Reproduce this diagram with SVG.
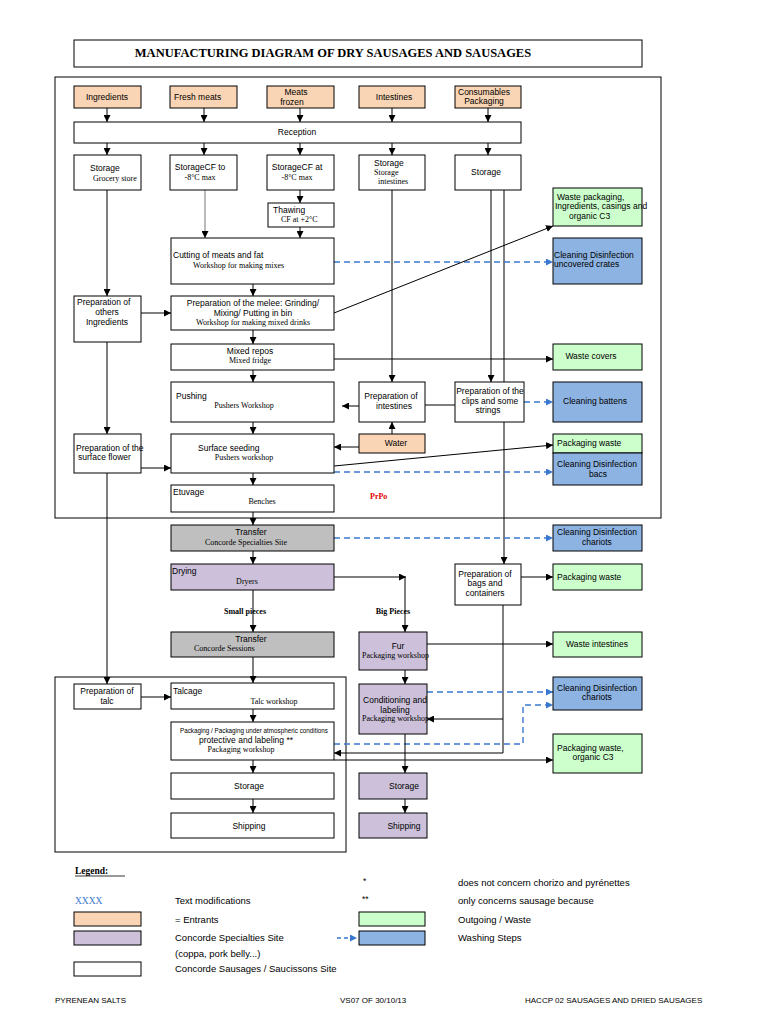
<svg xmlns="http://www.w3.org/2000/svg" width="768" height="1024" viewBox="0 0 768 1024">
<style>
.b{stroke:#000;stroke-width:1;fill:#fff}
.o{fill:#fad5b5}.g{fill:#ccffcc}.bl{fill:#8db3e2}.p{fill:#ccc0da}.gr{fill:#bfbfbf}
text{font-family:"Liberation Sans",Arial,sans-serif;font-size:8.5px;fill:#000}
.s{font-family:"Liberation Serif","Times New Roman",serif;font-size:8px}
.m{text-anchor:middle}
.c line,.c polyline{stroke:#000;stroke-width:1;fill:none}
.c .d{stroke:#3a78d0;stroke-width:1.4;stroke-dasharray:6,4}
.c .gl{stroke:#777}
</style>
<defs>
<marker id="a" viewBox="0 0 8 8" refX="8" refY="4" markerWidth="7" markerHeight="7" orient="auto" markerUnits="userSpaceOnUse"><path d="M0,0L8,4L0,8z" fill="#000"/></marker>
<marker id="ab" viewBox="0 0 8 8" refX="8" refY="4" markerWidth="7" markerHeight="7" orient="auto" markerUnits="userSpaceOnUse"><path d="M0,0L8,4L0,8z" fill="#3a78d0"/></marker>
</defs>
<rect x="74" y="40" width="568" height="27" fill="#fff" stroke="#000"/>
<text x="333" y="57" class="m" style="font-family:'Liberation Serif',serif;font-size:12.5px;font-weight:bold">MANUFACTURING DIAGRAM OF DRY SAUSAGES AND SAUSAGES</text>
<rect x="55" y="77" width="606" height="441" fill="none" stroke="#000"/>
<rect x="55" y="677" width="291" height="175" fill="none" stroke="#000"/>
<g class="c">
<line x1="107" y1="108" x2="107" y2="122" marker-end="url(#a)"/>
<line x1="204" y1="108" x2="204" y2="122" marker-end="url(#a)"/>
<line x1="300" y1="108" x2="300" y2="122" marker-end="url(#a)"/>
<line x1="392" y1="108" x2="392" y2="122" marker-end="url(#a)"/>
<line x1="488" y1="108" x2="488" y2="122" marker-end="url(#a)"/>
<line x1="107" y1="143" x2="107" y2="155" marker-end="url(#a)"/>
<line x1="204" y1="143" x2="204" y2="155" marker-end="url(#a)"/>
<line x1="300" y1="143" x2="300" y2="155" marker-end="url(#a)"/>
<line x1="392" y1="143" x2="392" y2="155" marker-end="url(#a)"/>
<line x1="488" y1="143" x2="488" y2="155" marker-end="url(#a)"/>
<line x1="107" y1="190" x2="107" y2="296" marker-end="url(#a)"/>
<line class="gl" x1="205" y1="190" x2="205" y2="238" marker-end="url(#a)"/>
<line x1="300" y1="190" x2="300" y2="203" marker-end="url(#a)"/>
<line x1="300" y1="227" x2="300" y2="238" marker-end="url(#a)"/>
<line x1="392" y1="190" x2="392" y2="382" marker-end="url(#a)"/>
<line x1="491" y1="190" x2="491" y2="382" marker-end="url(#a)"/>
<line x1="504" y1="190" x2="504" y2="382"/>
<line x1="504" y1="422" x2="504" y2="564" marker-end="url(#a)"/>
<polyline points="503,605 503,753 334,753" marker-end="url(#a)"/>
<line x1="503" y1="719" x2="427" y2="719" marker-end="url(#a)"/>
<line class="d" x1="334" y1="262" x2="553" y2="262" marker-end="url(#ab)"/>
<line x1="253" y1="284" x2="253" y2="296" marker-end="url(#a)"/>
<line x1="141" y1="313" x2="171" y2="313" marker-end="url(#a)"/>
<line x1="334" y1="313" x2="553" y2="226" marker-end="url(#a)"/>
<line x1="253" y1="330" x2="253" y2="344" marker-end="url(#a)"/>
<line x1="334" y1="359" x2="553" y2="359" marker-end="url(#a)"/>
<line x1="253" y1="370" x2="253" y2="382" marker-end="url(#a)"/>
<line x1="359" y1="406" x2="342" y2="406" marker-end="url(#a)"/>
<line x1="425" y1="405" x2="455" y2="405"/>
<line class="d" x1="524" y1="402" x2="553" y2="402" marker-end="url(#ab)"/>
<line x1="392" y1="434" x2="392" y2="422" marker-end="url(#a)"/>
<line x1="359" y1="447" x2="334" y2="447" marker-end="url(#a)"/>
<line x1="253" y1="422" x2="253" y2="434" marker-end="url(#a)"/>
<line x1="107" y1="342" x2="107" y2="434" marker-end="url(#a)"/>
<line x1="141" y1="468" x2="171" y2="468" marker-end="url(#a)"/>
<line x1="334" y1="466" x2="553" y2="445" marker-end="url(#a)"/>
<line class="d" x1="334" y1="472" x2="553" y2="472" marker-end="url(#ab)"/>
<line x1="253" y1="473" x2="253" y2="485" marker-end="url(#a)"/>
<line x1="253" y1="512" x2="253" y2="525" marker-end="url(#a)"/>
<line class="d" x1="334" y1="538" x2="553" y2="538" marker-end="url(#ab)"/>
<line x1="253" y1="551" x2="253" y2="564" marker-end="url(#a)"/>
<line x1="334" y1="577" x2="406" y2="577" marker-end="url(#a)"/>
<line x1="405" y1="577" x2="405" y2="632" marker-end="url(#a)"/>
<line x1="253" y1="590" x2="253" y2="632" marker-end="url(#a)"/>
<line x1="521" y1="577" x2="553" y2="577" marker-end="url(#a)"/>
<line x1="107" y1="473" x2="107" y2="684" marker-end="url(#a)"/>
<line x1="253" y1="657" x2="253" y2="683" marker-end="url(#a)"/>
<line x1="141" y1="697" x2="171" y2="697" marker-end="url(#a)"/>
<line x1="427" y1="644" x2="553" y2="644" marker-end="url(#a)"/>
<line x1="405" y1="670" x2="405" y2="684" marker-end="url(#a)"/>
<line class="d" x1="427" y1="692" x2="553" y2="692" marker-end="url(#ab)"/>
<polyline class="d" points="334,744 523,744 523,705 553,705" marker-end="url(#ab)"/>
<line x1="334" y1="760" x2="553" y2="760" marker-end="url(#a)"/>
<line x1="253" y1="709" x2="253" y2="722" marker-end="url(#a)"/>
<line x1="253" y1="760" x2="253" y2="773" marker-end="url(#a)"/>
<line x1="253" y1="799" x2="253" y2="813" marker-end="url(#a)"/>
<line x1="405" y1="734" x2="405" y2="773" marker-end="url(#a)"/>
<line x1="405" y1="799" x2="405" y2="813" marker-end="url(#a)"/>
</g>
<g id="n-ingredients"><rect class="b o" x="74" y="86" width="67" height="22"/><text x="107" y="100" class="m">Ingredients</text></g>
<g id="n-fresh"><rect class="b o" x="170" y="86" width="67" height="22"/><text x="174" y="100">Fresh meats</text></g>
<g id="n-frozen"><rect class="b o" x="267" y="86" width="67" height="22"/><text x="296" y="95" class="m">Meats</text><text x="292" y="105" class="m">frozen</text></g>
<g id="n-intestines"><rect class="b o" x="359" y="86" width="66" height="22"/><text x="394" y="100" class="m">Intestines</text></g>
<g id="n-consum"><rect class="b o" x="455" y="86" width="66" height="22"/><text x="484" y="95" class="m">Consumables</text><text x="484" y="104" class="m">Packaging</text></g>
<g id="n-reception"><rect class="b" x="74" y="122" width="447" height="21"/><text x="297" y="135" class="m">Reception</text></g>
<g id="n-st1"><rect class="b" x="74" y="155" width="67" height="35"/><text x="90" y="171">Storage</text><text x="93" y="181" class="s">Grocery store</text></g>
<g id="n-st2"><rect class="b" x="170" y="155" width="67" height="35"/><text x="200" y="170" class="m">StorageCF to</text><text x="200" y="180" class="s m">-8°C max</text></g>
<g id="n-st3"><rect class="b" x="267" y="155" width="67" height="35"/><text x="297" y="170" class="m">StorageCF at</text><text x="297" y="180" class="s m">-8°C max</text></g>
<g id="n-st4"><rect class="b" x="359" y="155" width="66" height="35"/><text x="374" y="166">Storage</text><text x="374" y="175" class="s">Storage</text><text x="378" y="184" class="s">intestines</text></g>
<g id="n-st5"><rect class="b" x="455" y="155" width="66" height="35"/><text x="486" y="175" class="m">Storage</text></g>
<g id="n-thaw"><rect class="b" x="268" y="203" width="66" height="24"/><text x="273" y="213">Thawing</text><text x="281" y="222" class="s">CF at +2°C</text></g>
<g id="n-cut"><rect class="b" x="171" y="238" width="163" height="46"/><text x="173" y="258">Cutting of meats and fat</text><text x="193" y="268" class="s">Workshop for making mixes</text></g>
<g id="n-wpack"><rect class="b g" x="553" y="188" width="89" height="38"/><text x="557" y="200">Waste packaging,</text><text x="555" y="209">Ingredients, casings and</text><text x="569" y="219">organic C3</text></g>
<g id="n-cuncov"><rect class="b bl" x="553" y="238" width="89" height="46"/><text x="554" y="258">Cleaning Disinfection</text><text x="554" y="267">uncovered crates</text></g>
<g id="n-prepothers"><rect class="b" x="74" y="296" width="67" height="46"/><text x="77" y="305">Preparation of</text><text x="107" y="315" class="m">others</text><text x="107" y="325" class="m">Ingredients</text></g>
<g id="n-melee"><rect class="b" x="171" y="296" width="163" height="34"/><text x="253" y="306" class="m">Preparation of the melee: Grinding/</text><text x="253" y="316" class="m">Mixing/ Putting in bin</text><text x="253" y="325" class="s m">Workshop for making mixed drinks</text></g>
<g id="n-mixed"><rect class="b" x="171" y="344" width="163" height="26"/><text x="250" y="354" class="m">Mixed repos</text><text x="250" y="363" class="s m">Mixed fridge</text></g>
<g id="n-wcovers"><rect class="b g" x="553" y="344" width="89" height="26"/><text x="591" y="359" class="m">Waste covers</text></g>
<g id="n-push"><rect class="b" x="171" y="382" width="163" height="40"/><text x="176" y="399">Pushing</text><text x="244" y="408" class="s m">Pushers Workshop</text></g>
<g id="n-prepint"><rect class="b" x="359" y="382" width="66" height="40"/><text x="391" y="399" class="m">Preparation of</text><text x="394" y="409" class="m">intestines</text></g>
<g id="n-clips"><rect class="b" x="455" y="382" width="69" height="40"/><text x="490" y="394" class="m">Preparation of the</text><text x="490" y="404" class="m">clips and some</text><text x="488" y="413" class="m">strings</text></g>
<g id="n-battens"><rect class="b bl" x="553" y="382" width="89" height="40"/><text x="595" y="404" class="m">Cleaning battens</text></g>
<g id="n-water"><rect class="b o" x="359" y="434" width="66" height="19"/><text x="396" y="446" class="m">Water</text></g>
<g id="n-flower"><rect class="b" x="74" y="434" width="67" height="39"/><text x="76" y="451">Preparation of the</text><text x="78" y="460">surface flower</text></g>
<g id="n-seed"><rect class="b" x="171" y="434" width="163" height="39"/><text x="198" y="451">Surface seeding</text><text x="244" y="460" class="s m">Pushers workshop</text></g>
<g id="n-pwaste1"><rect class="b g" x="553" y="434" width="89" height="19"/><text x="557" y="446">Packaging waste</text></g>
<g id="n-cbacs"><rect class="b bl" x="553" y="453" width="89" height="32"/><text x="597" y="467" class="m">Cleaning Disinfection</text><text x="598" y="477" class="m">bacs</text></g>
<g id="n-etuv"><rect class="b" x="171" y="485" width="163" height="27"/><text x="173" y="495">Etuvage</text><text x="262" y="504" class="s m">Benches</text></g>
<text x="370" y="499" style="font-family:'Liberation Serif',serif;font-size:8px;font-weight:bold;fill:#e00000">PrPo</text>
<g id="n-transfer1"><rect class="b gr" x="171" y="525" width="163" height="26"/><text x="251" y="535" class="m">Transfer</text><text x="246" y="545" class="s m">Concorde Specialties Site</text></g>
<g id="n-cchar1"><rect class="b bl" x="553" y="525" width="89" height="26"/><text x="597" y="535" class="m">Cleaning Disinfection</text><text x="597" y="545" class="m">chariots</text></g>
<g id="n-dry"><rect class="b p" x="171" y="564" width="163" height="26"/><text x="172" y="574">Drying</text><text x="247" y="584" class="s m">Dryers</text></g>
<g id="n-bags"><rect class="b" x="455" y="564" width="66" height="41"/><text x="485" y="577" class="m">Preparation of</text><text x="485" y="586" class="m">bags and</text><text x="485" y="596" class="m">containers</text></g>
<g id="n-pwaste2"><rect class="b g" x="553" y="564" width="89" height="26"/><text x="557" y="580">Packaging waste</text></g>
<text x="245" y="614" class="s m" style="font-weight:bold">Small pieces</text>
<text x="393" y="614" class="s m" style="font-weight:bold">Big Pieces</text>
<g id="n-transfer2"><rect class="b gr" x="171" y="632" width="163" height="25"/><text x="251" y="642" class="m">Transfer</text><text x="194" y="651" class="s">Concorde Sessions</text></g>
<g id="n-fur"><rect class="b p" x="359" y="632" width="68" height="38"/><text x="398" y="649" class="m">Fur</text><text x="362" y="658" class="s">Packaging workshop</text></g>
<g id="n-wint"><rect class="b g" x="553" y="632" width="89" height="25"/><text x="597" y="647" class="m">Waste intestines</text></g>
<g id="n-talc"><rect class="b" x="74" y="684" width="67" height="25"/><text x="107" y="694" class="m">Preparation of</text><text x="107" y="704" class="m">talc</text></g>
<g id="n-talcage"><rect class="b" x="171" y="683" width="163" height="26"/><text x="173" y="694">Talcage</text><text x="274" y="704" class="s m">Talc workshop</text></g>
<g id="n-cond"><rect class="b p" x="359" y="684" width="68" height="50"/><text x="395" y="703" class="m">Conditioning and</text><text x="395" y="713" class="m">labeling</text><text x="362" y="721" class="s">Packaging workshop</text></g>
<g id="n-cchar2"><rect class="b bl" x="553" y="677" width="89" height="33"/><text x="597" y="691" class="m">Cleaning Disinfection</text><text x="597" y="700" class="m">chariots</text></g>
<g id="n-pack"><rect class="b" x="171" y="722" width="163" height="38"/><text x="254" y="733" class="m" style="font-size:6.3px">Packaging / Packaging under atmospheric conditions</text><text x="246" y="743" class="m">protective and labeling **</text><text x="241" y="752" class="s m">Packaging workshop</text></g>
<g id="n-pwaste3"><rect class="b g" x="553" y="734" width="89" height="39"/><text x="557" y="751">Packaging waste,</text><text x="593" y="760" class="m">organic C3</text></g>
<g id="n-st6"><rect class="b" x="171" y="773" width="163" height="26"/><text x="249" y="789" class="m">Storage</text></g>
<g id="n-st7"><rect class="b p" x="359" y="773" width="68" height="26"/><text x="404" y="789" class="m">Storage</text></g>
<g id="n-ship1"><rect class="b" x="171" y="813" width="163" height="25"/><text x="249" y="829" class="m">Shipping</text></g>
<g id="n-ship2"><rect class="b p" x="359" y="813" width="68" height="25"/><text x="404" y="829" class="m">Shipping</text></g>
<g id="legend">
<text x="75" y="874" style="font-family:'Liberation Serif',serif;font-size:9.5px;font-weight:bold">Legend:</text>
<line x1="75" y1="876" x2="125" y2="876" stroke="#000" stroke-width="0.8"/>
<text x="363" y="884">*</text><text x="458" y="886" style="font-size:9.5px">does not concern chorizo and pyrénettes</text>
<text x="75" y="904" style="font-family:'Liberation Serif',serif;font-size:9.5px;fill:#3a78d0">XXXX</text>
<text x="175" y="904" style="font-size:9.5px">Text modifications</text>
<text x="362" y="902">**</text><text x="458" y="904" style="font-size:9.5px">only concerns sausage because</text>
<rect class="b o" x="74" y="912" width="67" height="14"/><text x="175" y="923" style="font-size:9.5px">= Entrants</text>
<rect class="b g" x="359" y="912" width="66" height="14"/><text x="458" y="923" style="font-size:9.5px">Outgoing / Waste</text>
<rect class="b p" x="74" y="931" width="67" height="14"/><text x="175" y="941" style="font-size:9.5px">Concorde Specialties Site</text><text x="175" y="957" style="font-size:9.5px">(coppa, pork belly...)</text>
<line x1="337" y1="938" x2="357" y2="938" stroke="#3a78d0" stroke-width="1.4" stroke-dasharray="4,3" marker-end="url(#ab)"/>
<rect class="b bl" x="359" y="931" width="66" height="14"/><text x="458" y="941" style="font-size:9.5px">Washing Steps</text>
<rect class="b" x="74" y="962" width="67" height="14"/><text x="175" y="972" style="font-size:9.5px">Concorde Sausages / Saucissons Site</text>
</g>
<text x="55" y="1003" style="font-size:8px">PYRENEAN SALTS</text>
<text x="340" y="1003" style="font-size:8px">VS07 OF 30/10/13</text>
<text x="525" y="1003" style="font-size:8px">HACCP 02 SAUSAGES AND DRIED SAUSAGES</text>
</svg>
